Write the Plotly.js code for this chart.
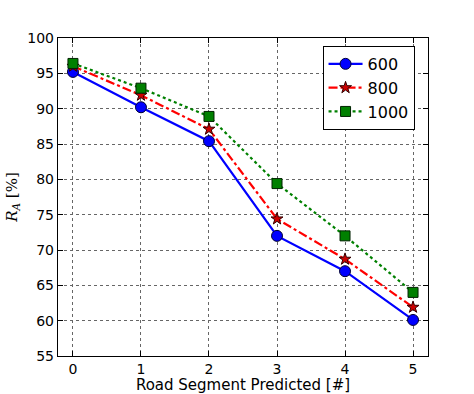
<!DOCTYPE html>
<html><head><meta charset="utf-8">
<script src="https://cdn.plot.ly/plotly-3.0.1.min.js"></script>
<style>html,body{margin:0;padding:0;background:#fff;}#chart{width:474px;height:394px;}</style>
</head><body><div id="chart"></div>
<script>
const segments = [0, 1, 2, 3, 4, 5];
const series600 = [95.2, 90.2, 85.4, 72.0, 67.0, 60.1];
const series800 = [96.0, 91.9, 87.1, 74.4, 68.7, 61.9];
const series1000 = [96.4, 92.9, 88.9, 79.4, 72.0, 64.0];
const names = ['600', '800', '1000'];

const traces = [
  {x: segments, y: series600, name: names[0], mode: 'lines+markers',
   line: {color: '#0000ff', width: 2.2, dash: 'solid'},
   marker: {symbol: 'circle', size: 11, color: '#0000ff', line: {color: '#000033', width: 1}}},
  {x: segments, y: series800, name: names[1], mode: 'lines+markers',
   line: {color: '#ff0000', width: 2.2, dash: 'dashdot'},
   marker: {symbol: 'star', size: 9, color: '#cc0000', line: {color: '#330000', width: 1}}},
  {x: segments, y: series1000, name: names[2], mode: 'lines+markers',
   line: {color: '#008000', width: 2.2, dash: 'dot'},
   marker: {symbol: 'square', size: 10, color: '#008000', line: {color: '#002200', width: 1}}}
];

const axisCommon = {
  showline: true, linecolor: '#000', linewidth: 1.2, mirror: 'ticks',
  ticks: 'inside', ticklen: 5, tickcolor: '#000',
  showgrid: true, gridcolor: '#666', griddash: 'dot', gridwidth: 1,
  zeroline: false, tickfont: {family: 'DejaVu Sans', size: 14, color: '#000'}
};

const layout = {
  width: 474, height: 394,
  margin: {l: 58, r: 46, t: 38, b: 38},
  paper_bgcolor: '#fff', plot_bgcolor: '#fff',
  font: {family: 'DejaVu Sans', color: '#000'},
  xaxis: Object.assign({}, axisCommon, {
    range: [-0.22, 5.22], tickvals: segments, ticktext: segments.map(String),
    title: {text: 'Road Segment Predicted [#]', font: {family: 'DejaVu Sans', size: 15}, standoff: 6}
  }),
  yaxis: Object.assign({}, axisCommon, {
    range: [55, 100], dtick: 5,
    title: {text: '<i>R</i><sub><i>A</i></sub> [%]', font: {family: 'DejaVu Serif', size: 15}, standoff: 6}
  }),
  legend: {x: 0.715, y: 0.975, xanchor: 'left', yanchor: 'top',
    bordercolor: '#000', borderwidth: 1, bgcolor: '#fff',
    font: {family: 'DejaVu Sans', size: 16}, tracegroupgap: 0, itemwidth: 34},
  showlegend: true
};

Plotly.newPlot('chart', traces, layout, {displayModeBar: false, staticPlot: true});
</script></body></html>
